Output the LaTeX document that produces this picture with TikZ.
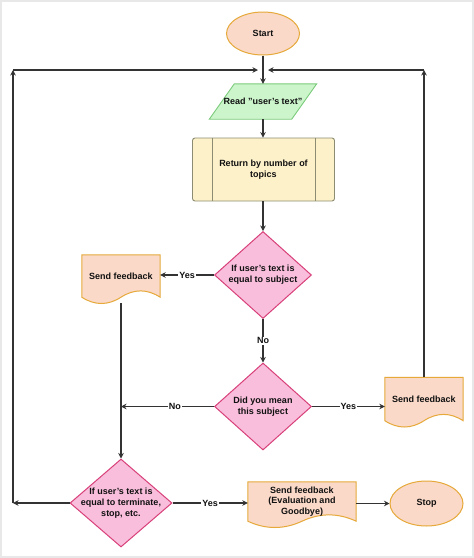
\documentclass[tikz,border=0pt]{standalone}
\usepackage{fontspec}
\setmainfont{Liberation Sans}
\usetikzlibrary{shapes.geometric,arrows.meta,calc,backgrounds}
\definecolor{peachfill}{HTML}{FAD9C8}
\definecolor{peachline}{HTML}{E6A93A}
\definecolor{pinkfill}{HTML}{F9BEDC}
\definecolor{pinkline}{HTML}{D8407A}
\definecolor{yelfill}{HTML}{FDF1C9}
\definecolor{yelline}{HTML}{8C8C72}
\definecolor{grnfill}{HTML}{CCF5CC}
\definecolor{grnline}{HTML}{7CCB7C}
\definecolor{edgecol}{HTML}{333333}
\definecolor{txtcol}{HTML}{111111}
\definecolor{framecol}{HTML}{E8E8E8}
\newcommand{\docshape}[3]{%
  \draw[docline] (#1.north west) -- (#1.north east) -- (#1.south east)
    .. controls ($(#1.south east)+(-#2/6,-0.6*#3)$) and ($(#1.south)+(#2/6,-0.6*#3)$) .. (#1.south)
    .. controls ($(#1.south)+(-#2/6,0.6*#3)$) and ($(#1.south west)+(#2/6,0.6*#3)$) .. (#1.south west)
    -- cycle;}
\begin{document}
\begin{tikzpicture}[x=1pt,y=-1pt,
  every node/.style={font=\bfseries\fontsize{9}{10.8}\selectfont, text=txtcol, align=center},
  term/.style={ellipse, draw=peachline, fill=peachfill, line width=1pt, inner sep=0pt},
  decision/.style={diamond, draw=pinkline, fill=pinkfill, line width=1pt, inner sep=-6pt},
  doc/.style={rectangle, inner sep=0pt},
  docline/.style={draw=peachline, fill=peachfill, line width=1pt},
  procbox/.style={rectangle, rounded corners=2.5pt, draw=yelline, fill=yelfill, line width=0.9pt},
  conn/.style={draw=edgecol, line width=1.1pt, -{Stealth[length=5.5pt,width=5.5pt]}},
  lbl/.style={fill=white, inner sep=1pt, font=\bfseries\fontsize{9}{10}\selectfont}]
\useasboundingbox (0,0) rectangle (474,558);

% nodes
\node[term, minimum width=73pt, minimum height=43pt] (start) at (263,33.5) {Start};
\node[doc, minimum width=82pt, minimum height=35pt] (read) at (263,101.5) {Read "user's text"};
\node[procbox, minimum width=142pt, minimum height=63pt] (ret) at (263.5,169.5) {Return by number of\\topics};
\node[decision, minimum width=97pt, minimum height=87pt] (d1) at (263,275) {If user's text is\\equal to subject};
\node[doc, minimum width=78pt, minimum height=42pt] (fb1) at (121,276) {Send feedback};
\node[decision, minimum width=97pt, minimum height=87pt] (d2) at (263,406.5) {Did you mean\\this subject};
\node[doc, minimum width=78pt, minimum height=43pt] (fb2) at (424,399) {Send feedback};
\node[decision, minimum width=102pt, minimum height=88pt] (d3) at (121,503) {If user's text is\\equal to terminate,\\stop, etc.};
\node[doc, minimum width=108pt, minimum height=39pt] (fb3) at (302,501.5) {Send feedback\\(Evaluation and\\Goodbye)};
\node[term, minimum width=73pt, minimum height=45pt] (stop) at (426.5,503.5) {Stop};

\begin{pgfonlayer}{background}
  \fill[white] (0,0) rectangle (474,558);
  \draw[framecol, line width=2pt] (1,1) rectangle (473,557);
  \draw[draw=grnline, fill=grnfill, line width=0.9pt]
    ($(read.north west)+(12.5,0)$) -- ($(read.north east)+(12.5,0)$) --
    ($(read.south east)+(-12.5,0)$) -- ($(read.south west)+(-12.5,0)$) -- cycle;
  \docshape{fb1}{78}{14}
  \docshape{fb2}{78}{14}
  \docshape{fb3}{108}{14}
\end{pgfonlayer}
\draw[yelline, line width=0.9pt] ($(ret.north west)+(20,0)$) -- ($(ret.south west)+(20,0)$);
\draw[yelline, line width=0.9pt] ($(ret.north east)+(-20,0)$) -- ($(ret.south east)+(-20,0)$);

% coordinates for loop-back lines
\coordinate (L2) at (13,70);
\coordinate (T1) at (258,70);
\coordinate (R1) at (423,70);
\coordinate (T2) at (268,70);
\coordinate (J1) at (d2.west -| fb1.south);

% connectors
\draw[conn] (start.south) -- (read.north);
\draw[conn] (read.south) -- (read.south |- ret.north);
\draw[conn] (read.south |- ret.south) -- (d1.north);
\draw[conn] (d1.west) -- node[lbl]{Yes} (d1.west -| fb1.east);
\draw[conn] (d1.south) -- node[lbl]{No} (d2.north);
\draw[conn] ([yshift=-6pt]fb1.south) -- (d3.north);
\draw[conn] (d2.west) -- node[lbl, pos=0.42]{No} (J1);
\draw[conn] (d2.east) -- node[lbl]{Yes} (d2.east -| fb2.west);
\draw[conn] (d3.east) -- node[lbl]{Yes} (d3.east -| fb3.west);
\draw[conn] (fb3.east |- stop.west) -- (stop.west);
\draw[conn] (d3.west) -- (d3.west -| L2);
\draw[conn] (d3.west -| L2) -- (L2);
\draw[conn] (L2) -- (T1);
\draw[conn] (fb2.north) -- (fb2.north |- R1);
\draw[conn] (fb2.north |- R1) -- (T2);
\end{tikzpicture}
\end{document}
